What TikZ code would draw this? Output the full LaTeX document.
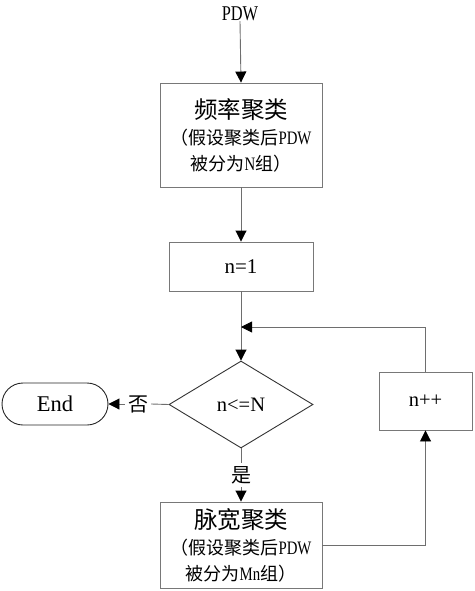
\documentclass[tikz,border=0pt]{standalone}
\usepackage{fontspec}
\setmainfont{Liberation Serif}
\newfontfamily\cjk{Noto Sans CJK SC}
\newfontfamily\narrow[FakeStretch=0.78]{Liberation Serif}
\usetikzlibrary{arrows.meta,shapes.geometric}
\definecolor{boxgray}{RGB}{120,120,120}
\definecolor{linegray}{RGB}{110,110,110}
\tikzset{
  procbox/.style={draw=boxgray, line width=0.9pt, rectangle, inner sep=0pt, align=center,
    font=\fontsize{18}{26}\selectfont},
  decbox/.style={draw=black!80, line width=0.9pt, diamond, inner sep=0pt, aspect=1.65,
    font=\fontsize{20.5}{24}\selectfont},
  termbox/.style={draw=black!85, line width=0.9pt, rectangle, rounded corners=21pt, inner sep=0pt,
    font=\fontsize{22.5}{24}\selectfont},
  lbl/.style={inner sep=0pt, font=\fontsize{20}{24}\selectfont},
  conn/.style={draw=linegray, line width=0.9pt},
  arr/.style={conn, -{Triangle[width=11pt,length=11pt,fill=black,color=black]}},
}
\begin{document}
\begin{tikzpicture}[x=1pt,y=-1pt]
\useasboundingbox (0,0) rectangle (474,591);
\node[lbl, font=\fontsize{21}{22}\selectfont\narrow] (pdw) at (240,14) {PDW};
\node[procbox, minimum width=162pt, minimum height=104pt] (b1) at (241,135)
  {{\fontsize{23.5}{26}\selectfont\cjk 频率聚类}\\{\cjk （假设聚类后}{\narrow\fontsize{19}{26}\selectfont PDW}\\{\cjk 被分为}{\narrow\fontsize{19}{26}\selectfont N}{\cjk 组）}};
\node[procbox, minimum width=144pt, minimum height=49pt, font=\fontsize{21}{24}\selectfont] (b2) at (241,266.5) {n=1};
\coordinate (join) at (241,327);
\node[decbox, minimum width=144pt, minimum height=87pt] (d) at (241,404.5) {n<=N};
\node[termbox, minimum width=106pt, minimum height=42pt] (end) at (55,404) {End};
\node[lbl] (no) at (138,404) {\cjk 否};
\node[lbl] (yes) at (241,475) {\cjk 是};
\node[procbox, minimum width=162pt, minimum height=86pt] (b3) at (241,545)
  {{\fontsize{23.5}{26}\selectfont\cjk 脉宽聚类}\\{\cjk （假设聚类后}{\narrow\fontsize{19}{26}\selectfont PDW}\\{\cjk 被分为}{\narrow\fontsize{19}{26}\selectfont Mn}{\cjk 组）}};
\node[procbox, minimum width=93pt, minimum height=58pt, font=\fontsize{20.5}{24}\selectfont] (inc) at (425.5,401) {n++};
\coordinate (bend) at (inc.south |- b3.east);
\draw[arr] (pdw.south) -- (b1.north);
\draw[arr] (b1.south) -- (b2.north);
\draw[arr] (b2.south) -- (d.north);
\draw[conn] (d.west) -- ([xshift=3pt]no.east);
\draw[arr] ([xshift=-3pt]no.west) -- (end.east);
\draw[conn] (d.south) -- ([yshift=3pt]yes.north);
\draw[arr] ([yshift=-3pt]yes.south) -- (b3.north);
\draw[arr] (b3.east) -- (bend) -- (inc.south);
\draw[arr] (inc.north) |- (join);
\end{tikzpicture}
\end{document}
